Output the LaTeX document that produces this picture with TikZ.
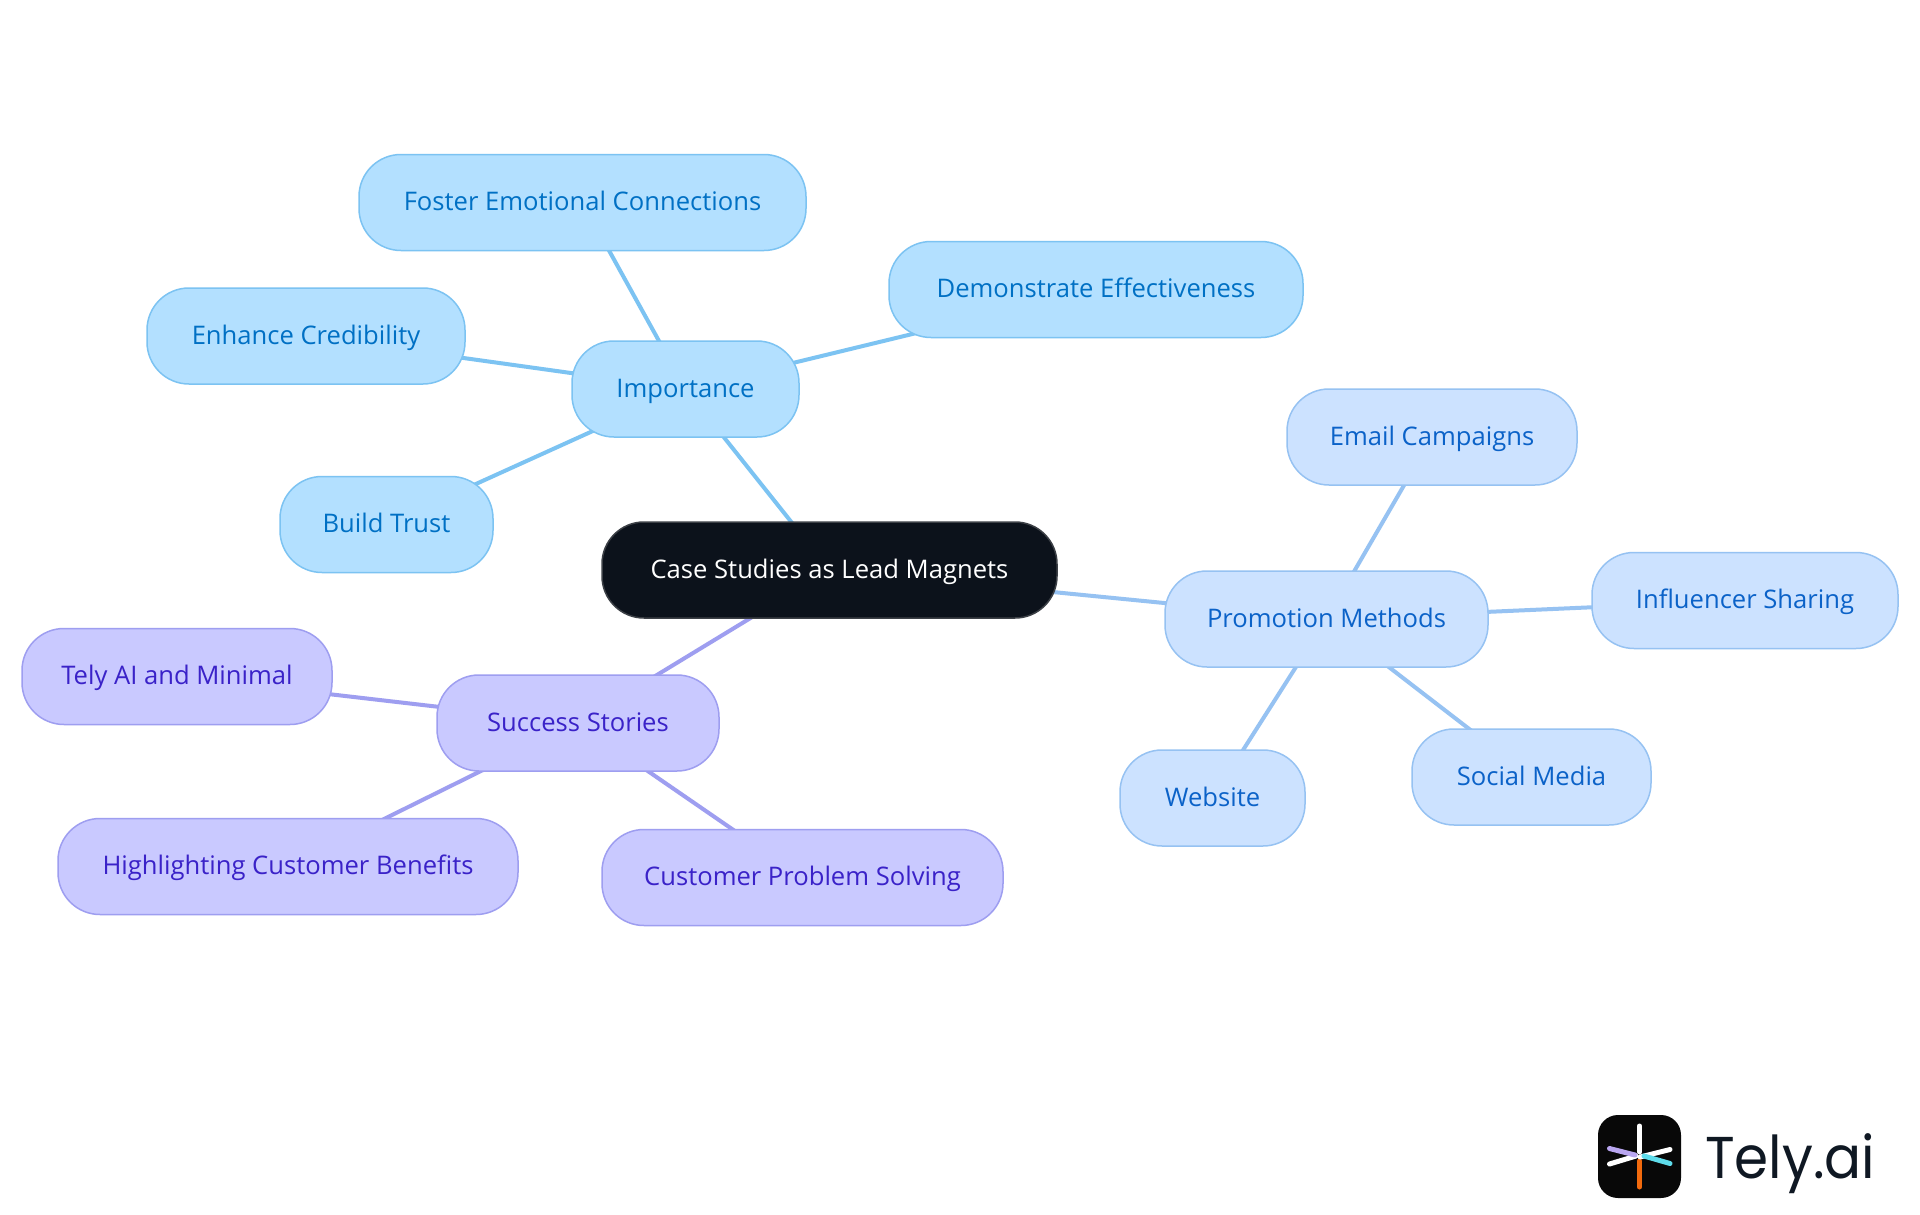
\documentclass[tikz,border=0pt]{standalone}
\usepackage{fontspec}
\usepackage{graphicx}
\setmainfont{Open Sans}
\newfontfamily\logofont{Poppins}
\usetikzlibrary{backgrounds}
\definecolor{rootfill}{HTML}{0C121B}
\definecolor{rootline}{HTML}{3C4046}
\definecolor{afill}{HTML}{B3E0FF}
\definecolor{aline}{HTML}{7CC3F2}
\definecolor{atext}{HTML}{0070C4}
\definecolor{bfill}{HTML}{CCE2FF}
\definecolor{bline}{HTML}{96C2F2}
\definecolor{btext}{HTML}{0B62C8}
\definecolor{cfill}{HTML}{C9C9FF}
\definecolor{cline}{HTML}{9E9EF0}
\definecolor{ctext}{HTML}{3A22C8}
\definecolor{logoink}{HTML}{0F1823}
\definecolor{logoorange}{HTML}{F26A0D}
\definecolor{logocyan}{HTML}{5EDCEB}
\definecolor{logopurple}{HTML}{B9A6F0}
\tikzset{
  base/.style={rectangle,rounded corners=42pt,minimum height=96pt,inner sep=0pt,line width=1.5pt,text height=22pt,text depth=6pt,font=\fontsize{25.6}{30}\selectfont},
  rootbox/.style={base,fill=rootfill,draw=rootline,text=white},
  abox/.style={base,fill=afill,draw=aline,text=atext},
  bbox/.style={base,fill=bfill,draw=bline,text=btext},
  cbox/.style={base,fill=cfill,draw=cline,text=ctext},
  aedge/.style={draw=aline,line width=4pt},
  bedge/.style={draw=bline,line width=4pt},
  cedge/.style={draw=cline,line width=4pt},
  spoke/.style={line width=5pt,line cap=round}
}
\begin{document}
\begin{tikzpicture}[x=1pt,y=-1pt]
\useasboundingbox (0,0) rectangle (1920,1215);
\node[rootbox,minimum width=455pt] (root) at (829.5,570) {Case Studies as Lead Magnets};
\node[abox,minimum width=227pt] (imp) at (685.5,389) {Importance};
\node[abox,minimum width=447pt] (foster) at (582.5,202.5) {Foster Emotional Connections};
\node[abox,minimum width=414pt] (demo) at (1096,289.5) {Demonstrate Effectiveness};
\node[abox,minimum width=318pt] (enh) at (306,336) {Enhance Credibility};
\node[abox,minimum width=213pt] (trust) at (386.5,524.5) {Build Trust};
\node[bbox,minimum width=323pt] (promo) at (1326.5,619) {Promotion Methods};
\node[bbox,minimum width=290pt] (email) at (1432,437) {Email Campaigns};
\node[bbox,minimum width=306pt] (infl) at (1745,600.5) {Influencer Sharing};
\node[bbox,minimum width=185pt] (web) at (1212.5,798) {Website};
\node[bbox,minimum width=239pt] (social) at (1531.5,777) {Social Media};
\node[cbox,minimum width=282pt] (succ) at (578,723) {Success Stories};
\node[cbox,minimum width=310pt] (tely) at (177,676.5) {Tely AI and Minimal};
\node[cbox,minimum width=460pt] (high) at (288,866.5) {Highlighting Customer Benefits};
\node[cbox,minimum width=401pt] (cust) at (802.5,877.5) {Customer Problem Solving};
\begin{scope}[on background layer]
\fill[white] (0,0) rectangle (1920,1215);
\draw[aedge] (root.center) -- (imp.center);
\draw[aedge] (imp.center) -- (foster.center);
\draw[aedge] (imp.center) -- (demo.center);
\draw[aedge] (imp.center) -- (enh.center);
\draw[aedge] (imp.center) -- (trust.center);
\draw[bedge] (root.center) -- (promo.center);
\draw[bedge] (promo.center) -- (email.center);
\draw[bedge] (promo.center) -- (infl.center);
\draw[bedge] (promo.center) -- (web.center);
\draw[bedge] (promo.center) -- (social.center);
\draw[cedge] (root.center) -- (succ.center);
\draw[cedge] (succ.center) -- (tely.center);
\draw[cedge] (succ.center) -- (high.center);
\draw[cedge] (succ.center) -- (cust.center);
\end{scope}
% logo
\fill[black!97!white,rounded corners=20pt] (1598,1115) rectangle (1681,1198);
\draw[spoke,white] (1639.5,1126) -- (1639.5,1152);
\draw[spoke,logoorange] (1639.5,1161) -- (1639.5,1187);
\draw[spoke,white] (1670,1149.5) -- (1640,1157);
\draw[spoke,white] (1609.5,1164) -- (1636,1156);
\draw[spoke,logopurple] (1609.5,1148.5) -- (1635,1155);
\draw[spoke,logocyan] (1644,1156) -- (1670,1163.5);
\node[anchor=base west,inner sep=0pt,text=logoink,font=\logofont\fontsize{59}{60}\selectfont] (logo) at (1705,1178) {\scalebox{.93}[1]{Tely.ai}};
\end{tikzpicture}
\end{document}
